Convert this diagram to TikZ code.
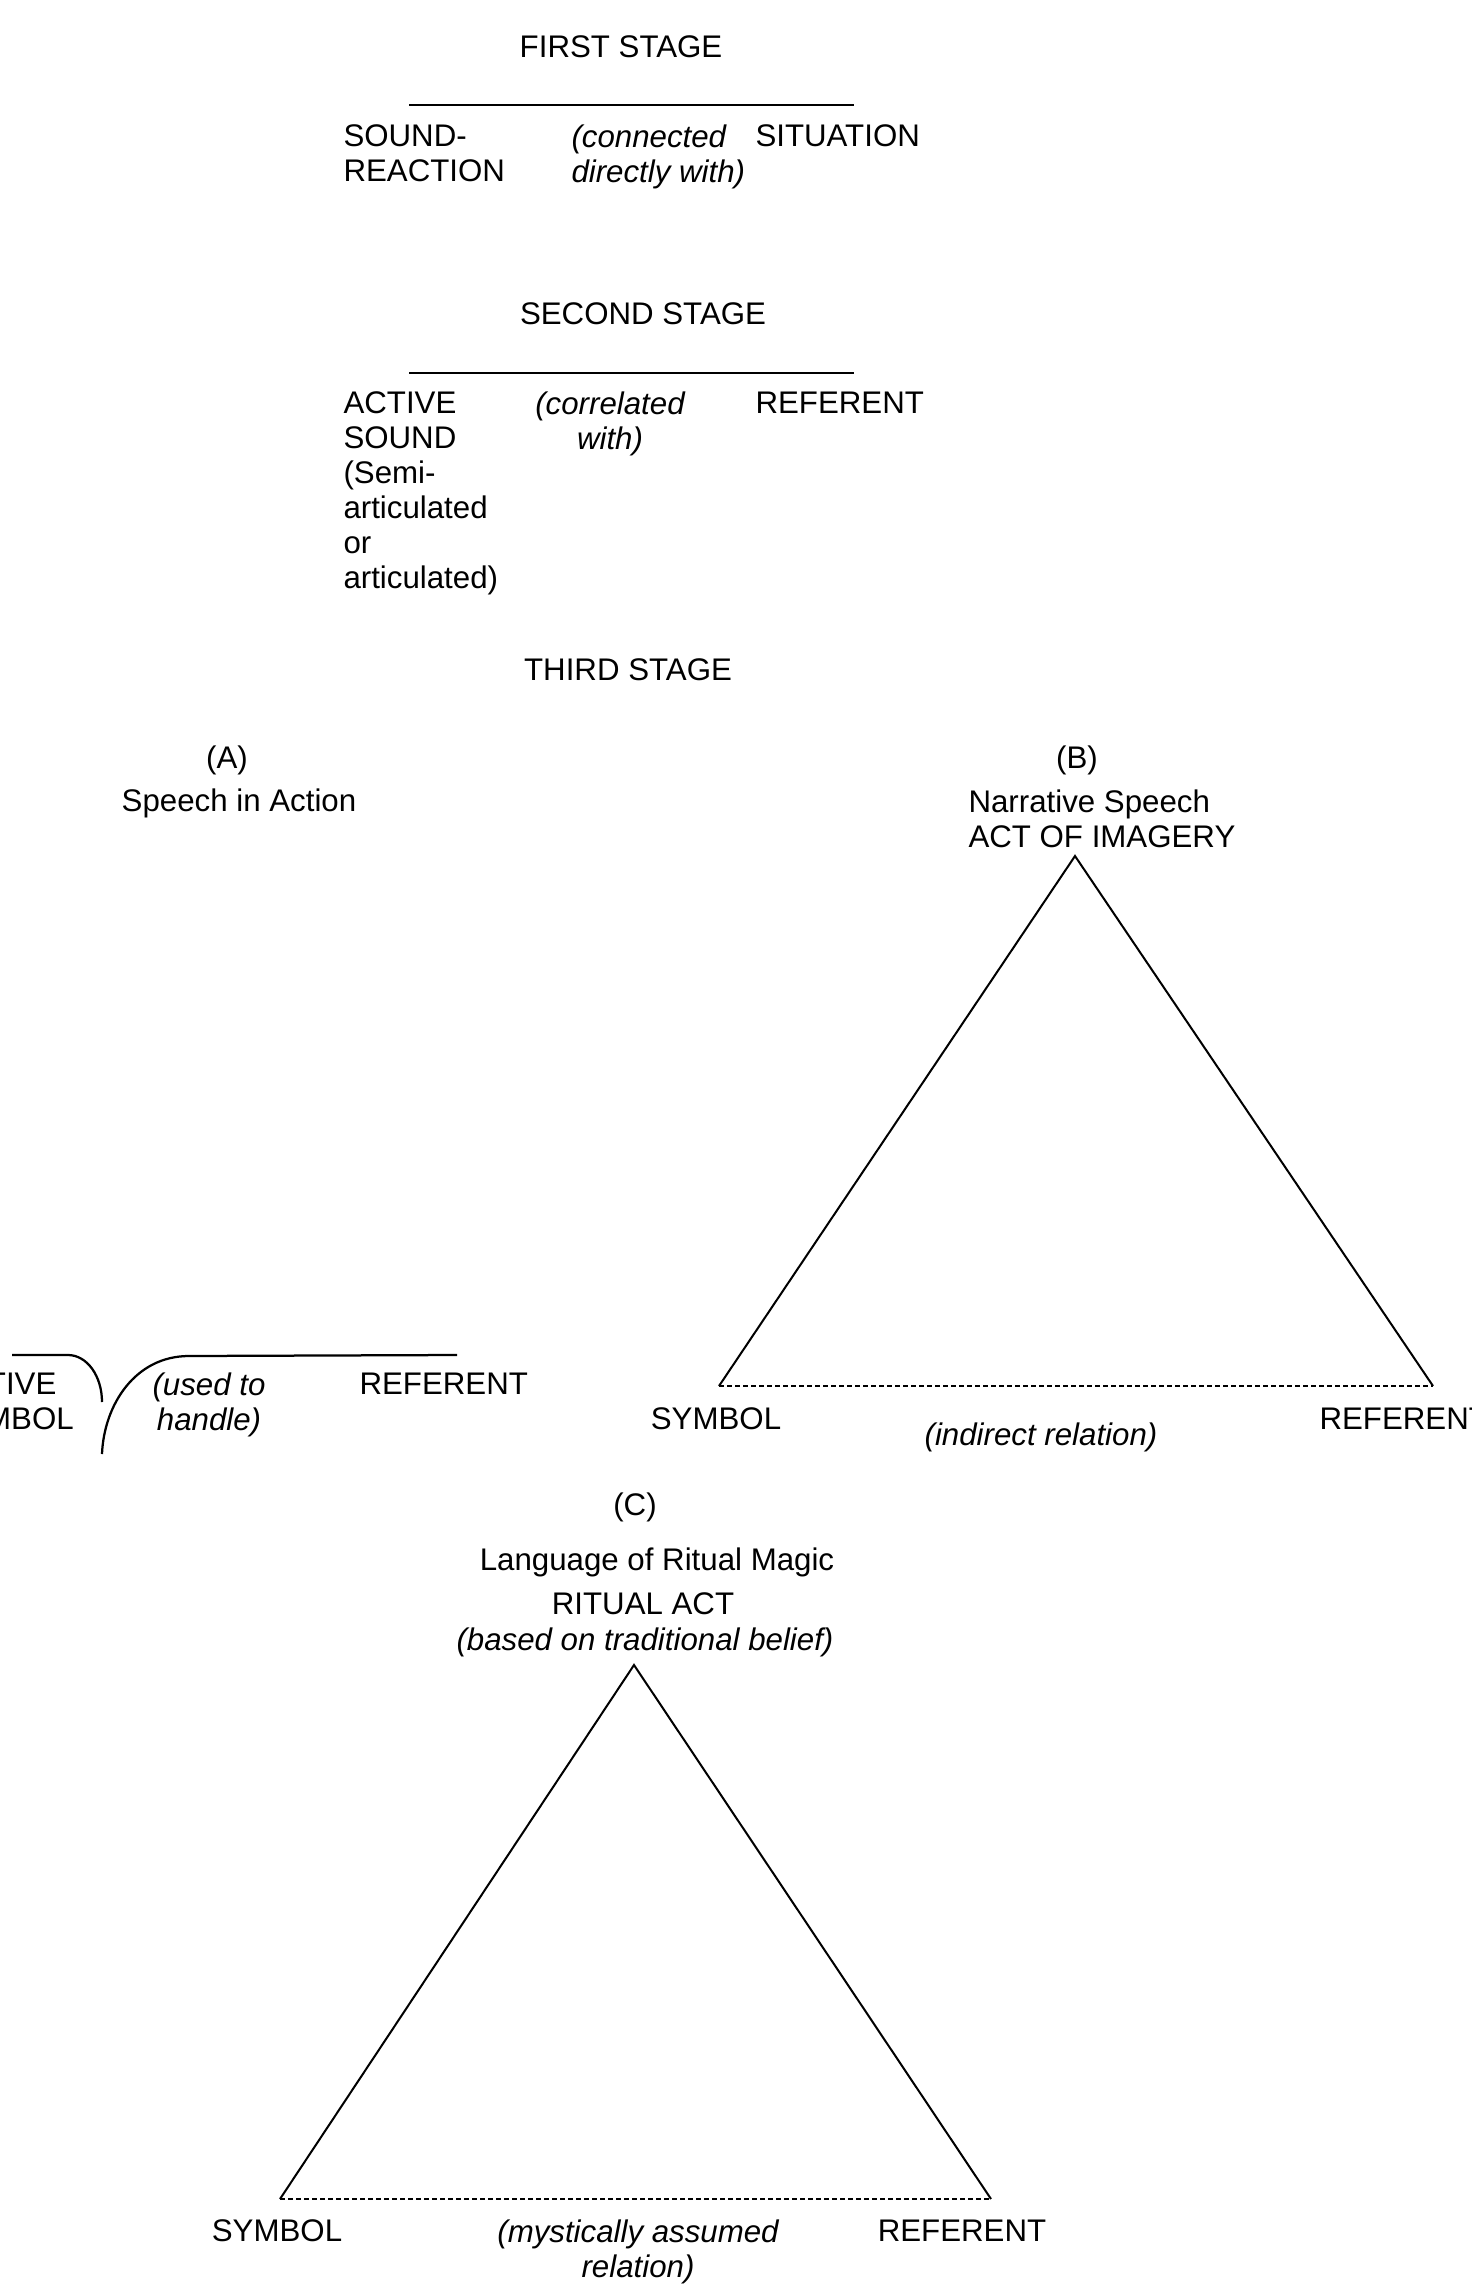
\documentclass[tikz,border=0pt]{standalone}
\usepackage{fontspec}
\setmainfont{Liberation Sans}

\begin{document}
\begin{tikzpicture}[x=0.4pt, y=-0.4pt, font=\fontsize{12.5}{14}\selectfont,
    txt/.style={inner sep=0pt},
    rel/.style={inner sep=0pt, font=\fontsize{12.5}{14}\selectfont\itshape},
    rule/.style={line width=0.9pt},
    side/.style={line width=0.8pt},
    link/.style={line width=0.7pt, dash pattern=on 2pt off 1.2pt}]
    \useasboundingbox (0,0) rectangle (1472,2285);
    \clip (0,0) rectangle (1472,2285);

    % first stage
    \node[txt,anchor=base] (first) at (621,58) {FIRST STAGE};
    \coordinate (r1a) at (409,105);
    \coordinate (r1b) at (854,105);
    \draw[rule] (r1a) -- (r1b);
    \node[txt,anchor=north west,align=left] (sreact) at (343,124) {SOUND-\\REACTION};
    \node[rel,anchor=north west,align=left] (conn) at (571,124) {(connected\\directly with)};
    \node[txt,anchor=base west] (sit) at (755,146) {SITUATION};

    % second stage
    \node[txt,anchor=base] (second) at (643,324) {SECOND STAGE};
    \coordinate (r2a) at (409,373);
    \coordinate (r2b) at (854,373);
    \draw[rule] (r2a) -- (r2b);
    \node[txt,anchor=north west,align=left] (asound) at (343,391)
      {ACTIVE\\SOUND\\(Semi-\\articulated\\or\\articulated)};
    \node[rel,anchor=north,align=center] (corr) at (610,391) {(correlated\\with)};
    \node[txt,anchor=base west] (ref2) at (755,413) {REFERENT};

    % third stage
    \node[txt,anchor=base] (third) at (628,680) {THIRD STAGE};

    % (A) speech in action
    \node[txt,anchor=base] (hA) at (227,768) {(A)};
    \node[txt,anchor=base] (tA) at (239,811) {Speech in Action};
    \node[txt,anchor=north west,align=left] (symA) at (-57,1372) {ACTIVE\\SYMBOL};
    \node[rel,anchor=north,align=center] (use) at (209,1372) {(used to\\handle)};
    \node[txt,anchor=base west] (refA) at (359,1394) {REFERENT};
    \coordinate (a1) at (12,1355);
    \coordinate (a2) at (68,1355);
    \coordinate (a3) at (102,1402);
    \draw[rule] (a1) -- (a2) .. controls (87,1355) and (102,1376) .. (a3);
    \coordinate (a4) at (102,1454);
    \coordinate (a5) at (189,1356);
    \coordinate (a6) at (457,1355);
    \draw[rule] (a4) .. controls (104,1405) and (135,1356) .. (a5) -- (a6);

    % (B) narrative speech
    \node[txt,anchor=base] (hB) at (1077,768) {(B)};
    \node[txt,anchor=north west,align=left] (tB) at (968,789)
      {Narrative Speech\\ACT OF IMAGERY};
    \coordinate (Btop) at (1075,856);
    \coordinate (Bsym) at (719,1386);
    \coordinate (Bref) at (1433,1386);
    \draw[side] (Bsym) -- (Btop) -- (Bref);
    \draw[link] (Bsym) -- (Bref);
    \node[txt,anchor=base] (symB) at (716,1429) {SYMBOL};
    \node[rel,anchor=base] (ind) at (1041,1445) {(indirect relation)};
    \node[txt,anchor=base west] (refB) at (1319,1429) {REFERENT};

    % (C) ritual magic
    \node[txt,anchor=base] (hC) at (635,1515) {(C)};
    \node[txt,anchor=base] (tC) at (657,1570) {Language of Ritual Magic};
    \node[txt,anchor=base] (act) at (643,1614) {RITUAL ACT};
    \node[rel,anchor=base] (bel) at (645,1650) {(based on traditional belief)};
    \coordinate (Ctop) at (634,1665);
    \coordinate (Csym) at (280,2199);
    \coordinate (Cref) at (991,2199);
    \draw[side] (Csym) -- (Ctop) -- (Cref);
    \draw[link] (Csym) -- (Cref);
    \node[txt,anchor=base] (symC) at (277,2241) {SYMBOL};
    \node[rel,anchor=north,align=center] (myst) at (638,2219) {(mystically assumed\\relation)};
    \node[txt,anchor=base] (refC) at (962,2241) {REFERENT};
\end{tikzpicture}
\end{document}
